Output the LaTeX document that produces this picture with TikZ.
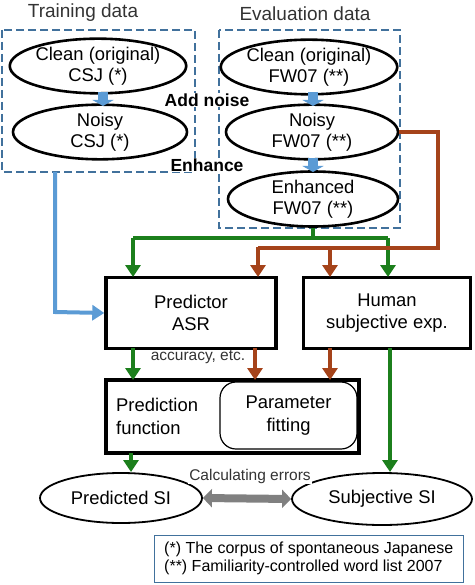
\documentclass[tikz,border=0pt]{standalone}
\usepackage{fontspec}
\setmainfont{Liberation Sans}
\usetikzlibrary{arrows.meta,shapes.geometric}
\definecolor{boxblue}{HTML}{41719C}
\definecolor{flowblue}{HTML}{5B9BD5}
\definecolor{flowgreen}{HTML}{1C7F1C}
\definecolor{flowbrown}{HTML}{A5431A}
\definecolor{errgray}{HTML}{808080}
\tikzset{
	dataset/.style={ellipse, draw, line width=2.6pt, inner sep=0pt, align=center, font=\fontsize{18.4}{21.5}\selectfont},
	block/.style={rectangle, draw, line width=3.4pt, inner sep=0pt, align=center, font=\fontsize{18.4}{22}\selectfont},
	groupbox/.style={draw=boxblue, line width=2.2pt, dash pattern=on 8pt off 4pt},
	grouptitle/.style={font=\fontsize{19}{23}\selectfont, text=black!80},
	steplabel/.style={fill=white, inner sep=1pt, font=\fontsize{17.5}{20}\bfseries\selectfont},
	smalllabel/.style={inner sep=1pt, font=\fontsize{15.5}{18}\selectfont, text=black!80},
	fatarrow/.style={draw=flowblue, line width=10pt, -{Triangle[width=21pt,length=6pt]}},
	greenflow/.style={draw=flowgreen, line width=3.3pt, -{Triangle[width=15pt,length=12pt]}},
	brownflow/.style={draw=flowbrown, line width=3.3pt, -{Triangle[width=15pt,length=12pt]}},
	greenline/.style={draw=flowgreen, line width=3.3pt},
	brownline/.style={draw=flowbrown, line width=3.3pt}
}

\begin{document}
\begin{tikzpicture}[x=1pt, y=-1pt]
		%%%%% START %%%%%
		\useasboundingbox (0, 0) rectangle (474, 585);
		
		% data sets
		\node[grouptitle] (traintitle) at (83, 13) {Training data};
		\node[grouptitle] (evaltitle) at (305, 14) {Evaluation data};
		\draw[groupbox] (2, 30) rectangle (195, 172);
		\draw[groupbox] (219, 30) rectangle (400, 228);
		
		\node[dataset, minimum width=170pt, minimum height=52pt] (cleancsj) at (98, 66) {Clean (original)\\CSJ (*)};
		\node[dataset, minimum width=174pt, minimum height=51pt] (noisycsj) at (100, 132) {Noisy\\CSJ (*)};
		\node[dataset, minimum width=171pt, minimum height=50pt] (cleanfw) at (309, 67) {Clean (original)\\FW07 (**)};
		\node[dataset, minimum width=172pt, minimum height=53pt] (noisyfw) at (312, 132) {Noisy\\FW07 (**)};
		\node[dataset, minimum width=170pt, minimum height=55pt] (enhfw) at (313, 199) {Enhanced\\FW07 (**)};
		
		\draw[fatarrow] (103, 92) -- (103, 106);
		\draw[fatarrow] (313, 92) -- (313, 106);
		\draw[fatarrow] (313, 158) -- (313, 172);
		
		\node[steplabel] (addnoise) at (207, 100) {Add noise};
		\node[steplabel] (enhance) at (207, 165) {Enhance};
		
		% predictor and listeners
		\node[block, minimum width=170pt, minimum height=71pt] (predictor) at (191, 313) {Predictor\\ASR};
		\node[block, minimum width=167pt, minimum height=71pt] (human) at (387, 313) {Human\\subjective exp.};
		
		\coordinate (greenbus) at (313, 238);
		\draw[greenline] (enhfw.south) -- (greenbus);
		\draw[greenline] (133, 238) -- (388, 238);
		\draw[greenflow] (133, 238) -- (133, 277);
		\draw[greenflow] (388, 238) -- (388, 277);
		
		\draw[brownline] (noisyfw.east) -- (438, 132) -- (438, 248) -- (258, 248);
		\draw[brownflow] (258, 247) -- (258, 277);
		\draw[brownflow] (330, 248) -- (330, 277);
		
		\draw[draw=flowblue, line width=4pt, -{Triangle[width=15pt,length=12pt]}] (55, 172) -- (55, 312) -- (predictor.west);
		
		% prediction function
		\node[block, minimum width=253pt, minimum height=73pt] (predfun) at (232.5, 416.5) {};
		\node[anchor=west, align=left, inner sep=0pt, font=\fontsize{18.4}{23}\selectfont] (predtxt) at (116, 416) {Prediction\\function};
		\node[rectangle, draw, rounded corners=16pt, line width=1.2pt, minimum width=137pt, minimum height=67pt, align=center, font=\fontsize{18.4}{23}\selectfont] (fitting) at (288.5, 415.5) {Parameter\\fitting};
		
		\draw[greenflow] (133, 348) -- (133, 380);
		\draw[brownflow] (255, 348) -- (255, 380);
		\draw[brownflow] (330, 348) -- (330, 380);
		\node[smalllabel] (accuracy) at (198, 357) {accuracy, etc.};
		
		% intelligibility
		\node[dataset, line width=1.8pt, minimum width=162pt, minimum height=50pt] (predsi) at (121, 498) {Predicted SI};
		\node[dataset, line width=1.8pt, minimum width=180pt, minimum height=52pt] (subjsi) at (382, 499) {Subjective SI};
		
		\draw[greenflow] (131, 453) -- (131, 472);
		\draw[greenflow] (390, 348) -- (390, 472);
		
		\draw[draw=errgray, line width=8pt, {Triangle[width=18pt,length=9pt]}-{Triangle[width=18pt,length=9pt]}] (predsi.east) -- (subjsi.west);
		\node[smalllabel, fill=white] (errors) at (250, 476) {Calculating errors};
		
		% notes
		\draw[draw=boxblue, line width=1pt] (154, 535) rectangle (463, 582);
		\node[anchor=west, align=left, inner sep=0pt, font=\fontsize{16}{18}\selectfont] (notes) at (164, 558.5) {(*) The corpus of spontaneous Japanese\\(**) Familiarity-controlled word list 2007};
		
		%%%%% END %%%%%
	\end{tikzpicture}
\end{document}
